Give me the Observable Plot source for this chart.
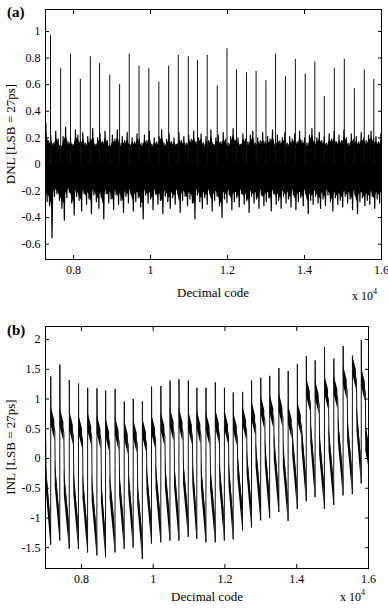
<!DOCTYPE html>
<html><head><meta charset="utf-8">
<script src="https://cdn.jsdelivr.net/npm/d3@7"></script>
<script src="https://cdn.jsdelivr.net/npm/@observablehq/plot@0.6"></script>
<style>
body{margin:0;background:#fff;font-family:"Liberation Serif","Times New Roman",serif;color:#000}
#wrap{position:relative;width:388px;height:608px;overflow:hidden;background:#fff}
.panel{position:absolute;left:0;width:388px}
.t{position:absolute;white-space:nowrap;line-height:1;color:#000}
.tag{font-weight:bold;font-size:15px}
.ylab{font-size:13px;transform:translate(-50%,-50%) rotate(-90deg)}
.xlab{font-size:13px;transform:translate(-50%,-50%)}
.mult{font-size:12px}
.mult sup{font-size:8px;vertical-align:6px;line-height:0}
</style></head>
<body><div id="wrap">
<div class="panel" id="pa" style="top:0"></div>
<div class="panel" id="pb" style="top:304px"></div>
<div class="t tag" style="left:7px;top:5px">(a)</div>
<div class="t tag" style="left:7px;top:323px">(b)</div>
<div class="t ylab" style="left:10px;top:134px">DNL [LSB = 27ps]</div>
<div class="t ylab" style="left:10px;top:447px">INL [LSB = 27ps]</div>
<div class="t xlab" style="left:213px;top:292px">Decimal code</div>
<div class="t xlab" style="left:207px;top:596px">Decimal code</div>
<div class="t mult" style="left:352px;top:290px">x 10<sup>4</sup></div>
<div class="t mult" style="left:340px;top:591px">x 10<sup>4</sup></div>
</div>
<script>
// ---------- shared ----------
const xTicks = [8000, 10000, 12000, 14000, 16000];
const dnlYTicks = [-0.6, -0.4, -0.2, 0, 0.2, 0.4, 0.6, 0.8, 1];
const inlYTicks = [-1.5, -1, -0.5, 0, 0.5, 1, 1.5, 2];

// codes of the periodic large-step codes
const spikeCodes = [7147, 7400, 7664, 7920, 8175, 8434, 8675, 8940, 9195, 9445,
  9700, 9955, 10215, 10470, 10720, 10980, 11218, 11472, 11732, 11986,
  12232, 12492, 12742, 12998, 13248, 13503, 13762, 14018, 14268, 14514,
  14774, 15034, 15294, 15552, 15800];

// ---------- DNL ----------
// spike heights for spikeCodes[1..34]
const dnlSpikeValues = [0.97, 0.72, 0.83, 0.64, 0.81, 0.76, 0.67, 0.60, 0.83, 0.74,
  0.72, 0.62, 0.74, 0.82, 0.81, 0.78, 0.82, 0.59, 0.87, 0.71,
  0.69, 0.70, 0.63, 0.83, 0.66, 0.79, 0.68, 0.77, 0.51, 0.72,
  0.79, 0.57, 0.71, 0.64];
const dnlStart = 7280, dnlStep = 64;
// noise band: solid core edges and protruding noise tips
const dnlCoreHi = [0.24,0.15,0.18,0.13,0.20,0.16,0.12,0.17,0.22,0.14,
  0.17,0.13,0.21,0.18,0.15,0.19,0.13,0.17,0.16,0.21,
  0.13,0.17,0.19,0.14,0.20,0.15,0.12,0.18,0.16,0.21,
  0.13,0.17,0.15,0.19,0.13,0.17,0.14,0.19,0.16,0.13,
  0.18,0.15,0.20,0.13,0.17,0.14,0.17,0.21,0.13,0.16,
  0.19,0.14,0.17,0.13,0.19,0.15,0.17,0.13,0.18,0.16,
  0.20,0.14,0.17,0.19,0.13,0.17,0.15,0.21,0.13,0.17,
  0.18,0.14,0.19,0.16,0.13,0.17,0.22,0.15,0.17,0.13,
  0.19,0.16,0.14,0.18,0.20,0.13,0.17,0.15,0.19,0.14,
  0.17,0.16,0.21,0.13,0.18,0.15,0.17,0.19,0.13,0.17,
  0.16,0.19,0.14,0.20,0.15,0.17,0.13,0.18,0.22,0.14,
  0.17,0.19,0.15,0.17,0.13,0.19,0.16,0.20,0.14,0.18,
  0.15,0.21,0.17,0.13,0.19,0.16,0.17,0.14,0.19,0.17,
  0.15,0.18,0.20,0.16,0.17,0.14,0.19];
const dnlHi = [0.31,0.18,0.22,0.16,0.25,0.19,0.14,0.21,0.28,0.17,
  0.20,0.15,0.26,0.22,0.18,0.24,0.16,0.21,0.19,0.27,
  0.15,0.20,0.23,0.17,0.25,0.18,0.14,0.22,0.19,0.26,
  0.16,0.21,0.18,0.24,0.15,0.20,0.17,0.23,0.19,0.16,
  0.22,0.18,0.25,0.15,0.20,0.17,0.21,0.26,0.16,0.19,
  0.23,0.17,0.20,0.15,0.24,0.18,0.21,0.16,0.22,0.19,
  0.25,0.17,0.20,0.23,0.16,0.21,0.18,0.26,0.15,0.20,
  0.22,0.17,0.24,0.19,0.16,0.21,0.27,0.18,0.20,0.15,
  0.23,0.19,0.17,0.22,0.25,0.16,0.20,0.18,0.24,0.17,
  0.21,0.19,0.26,0.15,0.22,0.18,0.20,0.24,0.16,0.21,
  0.19,0.23,0.17,0.25,0.18,0.20,0.16,0.22,0.27,0.17,
  0.20,0.24,0.18,0.21,0.16,0.23,0.19,0.25,0.17,0.22,
  0.18,0.26,0.20,0.16,0.23,0.19,0.21,0.17,0.24,0.20,
  0.18,0.22,0.25,0.19,0.21,0.17,0.23];
const dnlCoreLo = [-0.22,-0.24,-0.30,-0.20,-0.19,-0.22,-0.26,-0.30,-0.21,-0.18,
  -0.23,-0.29,-0.20,-0.22,-0.27,-0.19,-0.24,-0.21,-0.28,-0.19,
  -0.22,-0.26,-0.21,-0.30,-0.19,-0.23,-0.21,-0.27,-0.19,-0.24,
  -0.22,-0.28,-0.20,-0.23,-0.19,-0.27,-0.22,-0.21,-0.25,-0.30,
  -0.19,-0.23,-0.21,-0.26,-0.19,-0.24,-0.22,-0.28,-0.20,-0.22,
  -0.26,-0.21,-0.24,-0.19,-0.28,-0.22,-0.20,-0.25,-0.21,-0.23,
  -0.30,-0.19,-0.22,-0.26,-0.21,-0.24,-0.19,-0.27,-0.22,-0.20,
  -0.25,-0.30,-0.21,-0.23,-0.19,-0.26,-0.22,-0.21,-0.25,-0.19,
  -0.24,-0.22,-0.28,-0.20,-0.23,-0.21,-0.26,-0.19,-0.25,-0.22,
  -0.21,-0.27,-0.19,-0.24,-0.22,-0.26,-0.20,-0.23,-0.21,-0.25,
  -0.19,-0.26,-0.22,-0.21,-0.25,-0.19,-0.28,-0.22,-0.24,-0.20,
  -0.23,-0.26,-0.21,-0.25,-0.19,-0.22,-0.27,-0.21,-0.24,-0.22,
  -0.25,-0.20,-0.23,-0.21,-0.26,-0.19,-0.28,-0.22,-0.21,-0.25,
  -0.22,-0.24,-0.20,-0.26,-0.21,-0.23,-0.21];
const dnlLo = [-0.28,-0.31,-0.55,-0.24,-0.22,-0.27,-0.33,-0.42,-0.25,-0.21,
  -0.29,-0.38,-0.24,-0.27,-0.35,-0.22,-0.30,-0.26,-0.37,-0.23,
  -0.28,-0.33,-0.25,-0.41,-0.22,-0.29,-0.26,-0.34,-0.23,-0.30,
  -0.27,-0.36,-0.24,-0.29,-0.22,-0.35,-0.28,-0.25,-0.32,-0.41,
  -0.23,-0.29,-0.26,-0.34,-0.22,-0.30,-0.27,-0.37,-0.24,-0.28,
  -0.33,-0.25,-0.30,-0.22,-0.36,-0.27,-0.24,-0.31,-0.26,-0.29,
  -0.41,-0.23,-0.28,-0.33,-0.25,-0.30,-0.22,-0.35,-0.27,-0.24,
  -0.31,-0.40,-0.26,-0.29,-0.23,-0.34,-0.28,-0.25,-0.32,-0.22,
  -0.30,-0.27,-0.36,-0.24,-0.29,-0.26,-0.33,-0.23,-0.31,-0.28,
  -0.25,-0.35,-0.22,-0.30,-0.27,-0.33,-0.24,-0.29,-0.26,-0.32,
  -0.23,-0.34,-0.28,-0.25,-0.31,-0.22,-0.37,-0.27,-0.30,-0.24,
  -0.29,-0.33,-0.26,-0.31,-0.23,-0.28,-0.35,-0.25,-0.30,-0.27,
  -0.32,-0.24,-0.29,-0.26,-0.34,-0.23,-0.37,-0.28,-0.25,-0.31,
  -0.27,-0.30,-0.24,-0.33,-0.26,-0.29,-0.25];

// ---------- INL (one entry per period; first entry is the period that starts before the view) ----------
const inlPeriodStarts = [6891, ...spikeCodes];
const inlTop = [1.30, 1.38,1.58,1.32,1.26,1.19,1.18,1.14,1.17,0.96,1.00,
  0.96,1.21,1.22,1.31,1.33,1.31,1.19,1.19,1.28,1.19,
  1.11,1.12,1.31,1.36,1.39,1.52,1.47,1.59,1.72,1.65,
  1.87,1.68,1.89,1.73,1.99];
const inlBottom = [-1.40, -1.45,-1.38,-1.52,-1.52,-1.58,-1.63,-1.66,-1.58,-1.52,-1.50,
  -1.69,-1.43,-1.41,-1.38,-1.38,-1.32,-1.35,-1.41,-1.41,-1.38,
  -1.36,-1.21,-1.16,-1.04,-1.00,-0.90,-1.05,-0.85,-0.72,-0.65,
  -0.85,-0.78,-0.62,-0.60,-0.42];
const inlUpStart = [0.68, 0.73,0.70,0.65,0.59,0.63,0.58,0.53,0.55,0.49,0.51,
  0.53,0.59,0.63,0.70,0.70,0.65,0.66,0.63,0.68,0.66,
  0.63,0.73,0.81,0.91,0.93,0.95,0.75,0.81,1.21,1.17,
  1.25,1.25,1.41,1.58,1.38];
const inlUpEnd = [0.42, 0.47,0.44,0.39,0.33,0.37,0.32,0.27,0.29,0.23,0.25,
  0.27,0.33,0.37,0.44,0.44,0.39,0.40,0.37,0.42,0.40,
  0.37,0.47,0.55,0.65,0.67,0.69,0.49,0.55,0.95,0.91,
  0.99,0.99,1.15,1.32,1.12];
const inlLowStart = [-0.28, -0.25,-0.40,-0.38,-0.45,-0.50,-0.52,-0.45,-0.40,-0.38,-0.55,
  -0.30,-0.28,-0.25,-0.25,-0.20,-0.22,-0.28,-0.28,-0.25,-0.22,
  -0.08,-0.03,0.08,0.12,0.22,0.08,0.28,0.40,0.48,0.28,
  0.35,0.50,0.52,0.70,0.35];
const inlLowEnd = [-1.17, -1.10,-1.24,-1.24,-1.30,-1.35,-1.38,-1.30,-1.24,-1.22,-1.40,
  -1.15,-1.13,-1.10,-1.10,-1.04,-1.07,-1.13,-1.13,-1.10,-1.08,
  -0.93,-0.88,-0.76,-0.72,-0.62,-0.77,-0.57,-0.44,-0.37,-0.57,
  -0.50,-0.34,-0.32,-0.14,0.10];
const inlUpNoise = 0.16;   // half-width of the noisy band, upper half-period
const inlLowNoise = 0.22;  // half-width of the noisy band, lower half-period

// ---------- build tables ----------
const dnlNoise = [], dnlCore = [];
dnlHi.forEach((h, i) => {
  const c = dnlStart + i * dnlStep;
  dnlNoise.push({code: c, v: h});
  dnlNoise.push({code: c + dnlStep / 2, v: dnlLo[i]});
  dnlCore.push({code: c + dnlStep / 4, hi: dnlCoreHi[i], lo: dnlCoreLo[i]});
});
const dnlSpikes = dnlSpikeValues.map((v, i) => ({code: spikeCodes[i + 1], v}));

const inlPath = [], inlBands = [];
inlPeriodStarts.forEach((s, k) => {
  const next = inlPeriodStarts[k + 1];
  const upA = s + 5, upB = s + 112, lowA = s + 125, lowB = next ? next - 8 : 16000;
  inlPath.push({code: s - 3, v: inlBottom[k]}, {code: s, v: inlTop[k]},
    {code: upA, v: inlUpStart[k]}, {code: upB, v: inlUpEnd[k]},
    {code: lowA, v: inlLowStart[k]}, {code: lowB, v: inlLowEnd[k]});
  inlBands.push({seg: "u" + k, code: upA, lo: inlUpStart[k] - inlUpNoise, hi: inlUpStart[k] + inlUpNoise},
    {seg: "u" + k, code: upB, lo: inlUpEnd[k] - inlUpNoise, hi: inlUpEnd[k] + inlUpNoise},
    {seg: "l" + k, code: lowA, lo: inlLowStart[k] - inlLowNoise, hi: inlLowStart[k] + inlLowNoise},
    {seg: "l" + k, code: lowB, lo: inlLowEnd[k] - inlLowNoise, hi: inlLowEnd[k] + inlLowNoise});
});

function axes(yTicks) {
  const fx = d => String(d / 1e4), fy = d => String(d);
  return [
    Plot.axisX(xTicks, {anchor: "bottom", tickSize: 0, tickPadding: 6, tickFormat: fx, label: null, fontSize: 12}),
    Plot.axisX(xTicks, {anchor: "bottom", tickSize: -4, tickFormat: () => "", label: null}),
    Plot.axisX(xTicks, {anchor: "top", tickSize: -4, tickFormat: () => "", label: null}),
    Plot.axisY(yTicks, {anchor: "left", tickSize: 0, tickPadding: 5, tickFormat: fy, label: null, fontSize: 12}),
    Plot.axisY(yTicks, {anchor: "left", tickSize: -4, tickFormat: () => "", label: null}),
    Plot.axisY(yTicks, {anchor: "right", tickSize: -4, tickFormat: () => "", label: null}),
    Plot.frame({stroke: "black", strokeWidth: 1})
  ];
}
const style = {fontFamily: "'Liberation Serif','Times New Roman',serif", fontSize: "12px", color: "black", background: "white", overflow: "visible"};

const pa = Plot.plot({
  width: 388, height: 304, marginTop: 9, marginBottom: 45, marginLeft: 45, marginRight: 7,
  style,
  x: {domain: [7270, 16000]},
  y: {domain: [-0.715, 1.165]},
  marks: [
    Plot.areaY(dnlCore, {x: "code", y1: "lo", y2: "hi", fill: "black", clip: true}),
    Plot.line(dnlNoise, {x: "code", y: "v", stroke: "black", strokeWidth: 1.2, clip: true}),
    Plot.ruleX(dnlSpikes, {x: "code", y1: 0, y2: "v", stroke: "#111", strokeWidth: 1, clip: true}),
    ...axes(dnlYTicks)
  ]
});
document.getElementById("pa").appendChild(pa);

const pb = Plot.plot({
  width: 388, height: 304, marginTop: 22, marginBottom: 40, marginLeft: 45, marginRight: 20,
  style,
  x: {domain: [7000, 16000]},
  y: {domain: [-1.85, 2.22]},
  marks: [
    Plot.areaY(inlBands, {x: "code", y1: "lo", y2: "hi", z: "seg", fill: "black", clip: true}),
    Plot.line(inlPath, {x: "code", y: "v", stroke: "#111", strokeWidth: 1, clip: true}),
    ...axes(inlYTicks)
  ]
});
document.getElementById("pb").appendChild(pb);
</script>
</body></html>
